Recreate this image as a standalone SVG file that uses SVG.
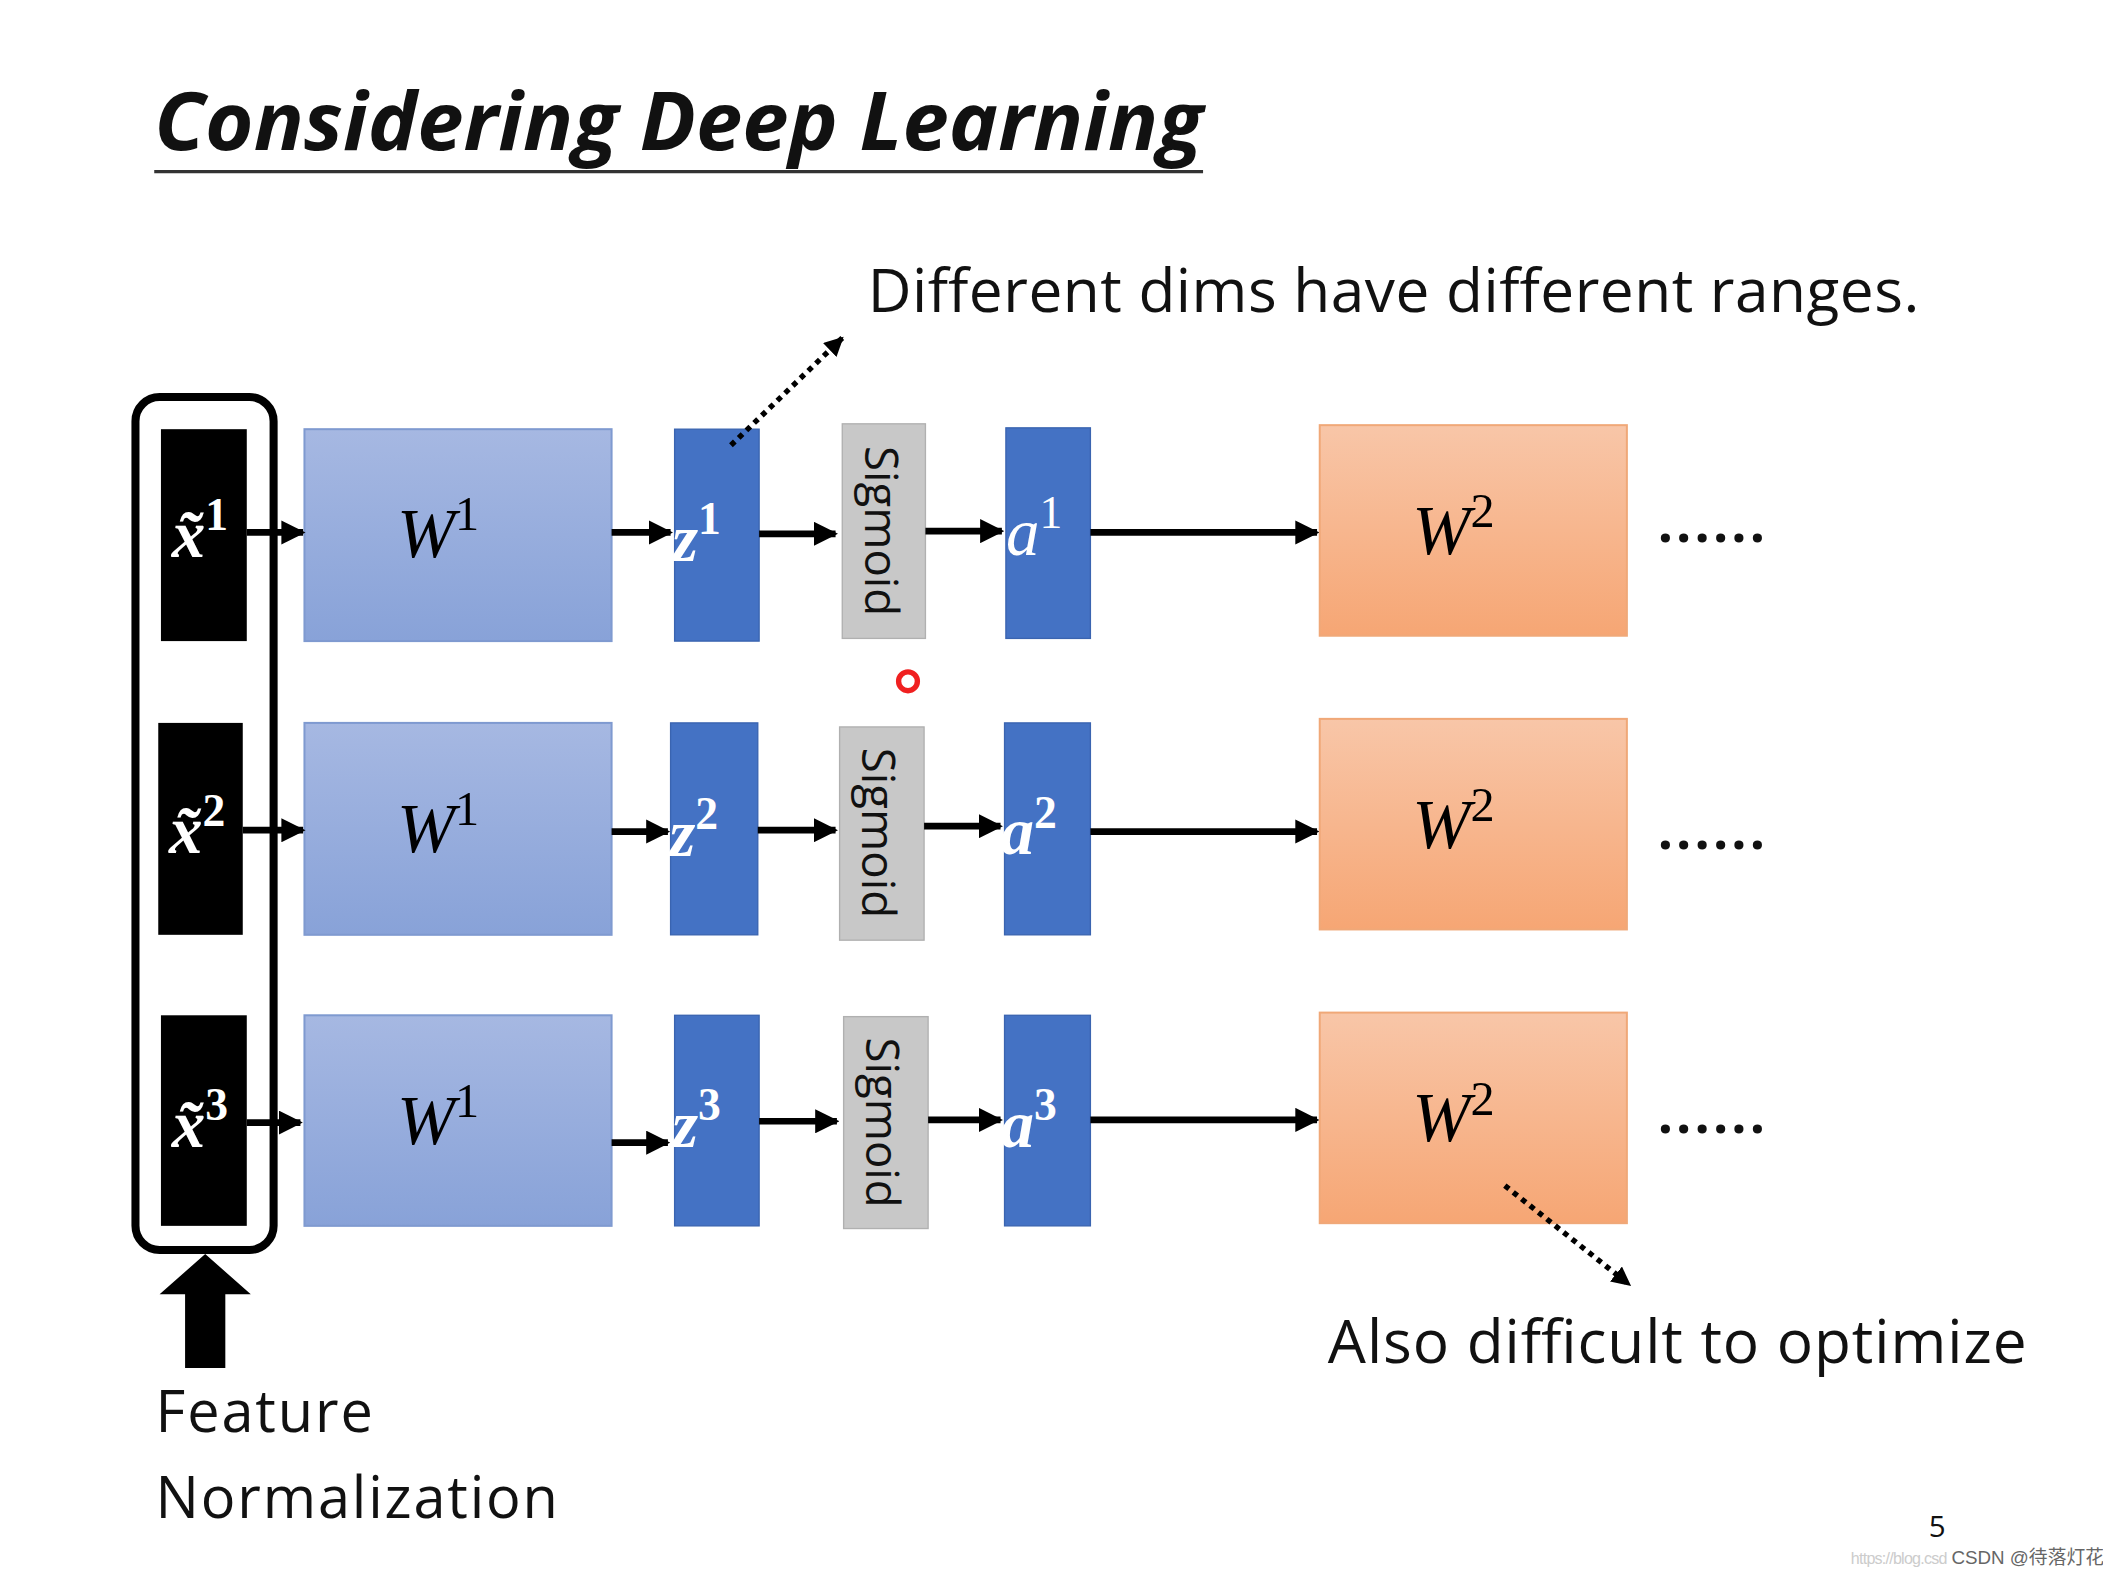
<svg xmlns="http://www.w3.org/2000/svg" width="2103" height="1575" viewBox="0 0 2103 1575">
<style>
.x{fill:#000}
.w1{fill:url(#g1);stroke:#7f9ad0;stroke-width:1.5}
.w2{fill:url(#g2);stroke:#f0a878;stroke-width:1.5}
.b{fill:#4472c4;stroke:#3a64b0;stroke-width:1}
.s{fill:#c8c8c8;stroke:#b0b0b0;stroke-width:1}
.m{font-family:"Liberation Serif",serif;font-style:italic}
.m tspan{font-style:normal}
.t{font-family:"Open Sans","Noto Sans",sans-serif;fill:#111}
.c line{stroke:#000;stroke-width:5;marker-end:url(#ah)}
.c .d{stroke-width:4;stroke-dasharray:4 4}
</style>
<defs>
<linearGradient id="g1" x1="0" y1="0" x2="0" y2="1"><stop offset="0" stop-color="#a6b8e2"/><stop offset="1" stop-color="#88a2d8"/></linearGradient>
<linearGradient id="g2" x1="0" y1="0" x2="0" y2="1"><stop offset="0" stop-color="#f8c6a8"/><stop offset="1" stop-color="#f6a674"/></linearGradient>
<marker id="ah" viewBox="0 0 10 10" refX="9" refY="5" markerWidth="3.6" markerHeight="3.6" orient="auto" markerUnits="strokeWidth"><path d="M0,0L10,5L0,10z" fill="#000"/></marker>
</defs>
<rect width="2103" height="1575" fill="#fff"/>
<g transform="scale(1.3412)">
<text x="115" y="112" font-family="Open Sans,Noto Sans,sans-serif" font-weight="bold" font-style="italic" font-size="60" fill="#111" textLength="782" lengthAdjust="spacingAndGlyphs">Considering Deep Learning</text>
<line x1="115" y1="128" x2="897" y2="128" stroke="#333" stroke-width="2.5"/>
<rect id="bracket" x="101" y="296" width="103" height="636" rx="18" fill="none" stroke="#000" stroke-width="6"/>

<g id="row1">
<g id="x1"><rect class="x" x="120" y="320" width="64" height="158"/><text class="m" x="128" y="415" font-size="50" font-weight="bold" fill="#fff">x̃<tspan font-size="34" dy="-20">1</tspan></text></g>
<g id="W1a"><rect class="w1" x="227" y="320" width="229" height="158"/><text class="m" x="296" y="415" font-size="52">W<tspan font-size="36" dy="-20">1</tspan></text></g>
<g id="z1"><rect class="b" x="503" y="320" width="63" height="158"/><text class="m" x="501" y="418" font-size="50" font-weight="bold" fill="#fff">z<tspan font-size="34" dy="-20">1</tspan></text></g>
<g id="s1"><rect class="s" x="628" y="316" width="62" height="160"/><text class="t" transform="translate(645,396) rotate(90)" text-anchor="middle" font-size="34" fill="#222">Sigmoid</text></g>
<g id="a1"><rect class="b" x="750" y="319" width="63" height="157"/><text class="m" x="750" y="414" font-size="50" fill="#fff">a<tspan font-size="34" dy="-20">1</tspan></text></g>
<g id="W2a"><rect class="w2" x="984" y="317" width="229" height="157"/><text class="m" x="1053" y="413" font-size="52">W<tspan font-size="36" dy="-20">2</tspan></text></g>
<text class="t" x="1236" y="404" font-size="40" font-weight="bold" textLength="80">......</text>
</g>
<g id="row2">
<g id="x2"><rect class="x" x="118" y="539" width="63" height="158"/><text class="m" x="126" y="636" font-size="50" font-weight="bold" fill="#fff">x̃<tspan font-size="34" dy="-20">2</tspan></text></g>
<g id="W1b"><rect class="w1" x="227" y="539" width="229" height="158"/><text class="m" x="296" y="635" font-size="52">W<tspan font-size="36" dy="-20">1</tspan></text></g>
<g id="z2"><rect class="b" x="500" y="539" width="65" height="158"/><text class="m" x="499" y="638" font-size="50" font-weight="bold" fill="#fff">z<tspan font-size="34" dy="-20">2</tspan></text></g>
<g id="s2"><rect class="s" x="626" y="542" width="63" height="159"/><text class="t" transform="translate(643,621) rotate(90)" text-anchor="middle" font-size="34" fill="#222">Sigmoid</text></g>
<g id="a2"><rect class="b" x="749" y="539" width="64" height="158"/><text class="m" x="746" y="637" font-size="50" font-weight="bold" fill="#fff">a<tspan font-size="34" dy="-20">2</tspan></text></g>
<g id="W2b"><rect class="w2" x="984" y="536" width="229" height="157"/><text class="m" x="1053" y="632" font-size="52">W<tspan font-size="36" dy="-20">2</tspan></text></g>
<text class="t" x="1236" y="633" font-size="40" font-weight="bold" textLength="80">......</text>
</g>
<g id="row3">
<g id="x3"><rect class="x" x="120" y="757" width="64" height="157"/><text class="m" x="128" y="855" font-size="50" font-weight="bold" fill="#fff">x̃<tspan font-size="34" dy="-20">3</tspan></text></g>
<g id="W1c"><rect class="w1" x="227" y="757" width="229" height="157"/><text class="m" x="296" y="853" font-size="52">W<tspan font-size="36" dy="-20">1</tspan></text></g>
<g id="z3"><rect class="b" x="503" y="757" width="63" height="157"/><text class="m" x="501" y="855" font-size="50" font-weight="bold" fill="#fff">z<tspan font-size="34" dy="-20">3</tspan></text></g>
<g id="s3"><rect class="s" x="629" y="758" width="63" height="158"/><text class="t" transform="translate(646,837) rotate(90)" text-anchor="middle" font-size="34" fill="#222">Sigmoid</text></g>
<g id="a3"><rect class="b" x="749" y="757" width="64" height="157"/><text class="m" x="746" y="855" font-size="50" font-weight="bold" fill="#fff">a<tspan font-size="34" dy="-20">3</tspan></text></g>
<g id="W2c"><rect class="w2" x="984" y="755" width="229" height="157"/><text class="m" x="1053" y="851" font-size="52">W<tspan font-size="36" dy="-20">2</tspan></text></g>
<text class="t" x="1236" y="845" font-size="40" font-weight="bold" textLength="80">......</text>
</g>

<g id="connectors" class="c">
<line x1="184" y1="397" x2="226" y2="397"/><line x1="456" y1="397" x2="500" y2="397"/><line x1="566" y1="398" x2="623" y2="398"/><line x1="690" y1="396" x2="747" y2="396"/><line x1="813" y1="397" x2="982" y2="397"/>
<line x1="181" y1="619" x2="226" y2="619"/><line x1="456" y1="620" x2="498" y2="620"/><line x1="565" y1="619" x2="623" y2="619"/><line x1="689" y1="616" x2="746" y2="616"/><line x1="813" y1="620" x2="982" y2="620"/>
<line x1="184" y1="837" x2="224" y2="837"/><line x1="456" y1="852" x2="498" y2="852"/><line x1="566" y1="836" x2="624" y2="836"/><line x1="692" y1="835" x2="746" y2="835"/><line x1="813" y1="835" x2="982" y2="835"/>
<line class="d" x1="545" y1="332" x2="628" y2="252"/>
<line class="d" x1="1122" y1="884" x2="1215" y2="958"/>
<path d="M153,935L187,965H168V1020H138V965H119Z" fill="#000"/>
</g>
<circle cx="677" cy="508" r="7" fill="none" stroke="#f02020" stroke-width="4"/>
<text class="t" x="647" y="233" font-size="45" textLength="784">Different dims have different ranges.</text>
<text class="t" x="990" y="1016" font-size="45" textLength="521">Also difficult to optimize</text>
<text class="t" x="116" y="1068" font-size="43" textLength="162">Feature</text>
<text class="t" x="116" y="1132" font-size="43" textLength="300">Normalization</text>
<text class="t" x="1438" y="1146" font-size="22" fill="#888">5</text>
<text x="1380" y="1166" font-family="Liberation Sans,sans-serif" font-size="12" fill="#ccc" textLength="72">https://blog.csd</text>
<text x="1455" y="1166" font-family="Liberation Sans,Noto Sans CJK SC,sans-serif" font-size="14" fill="#666">CSDN @待落灯花</text>
</g>
</svg>
